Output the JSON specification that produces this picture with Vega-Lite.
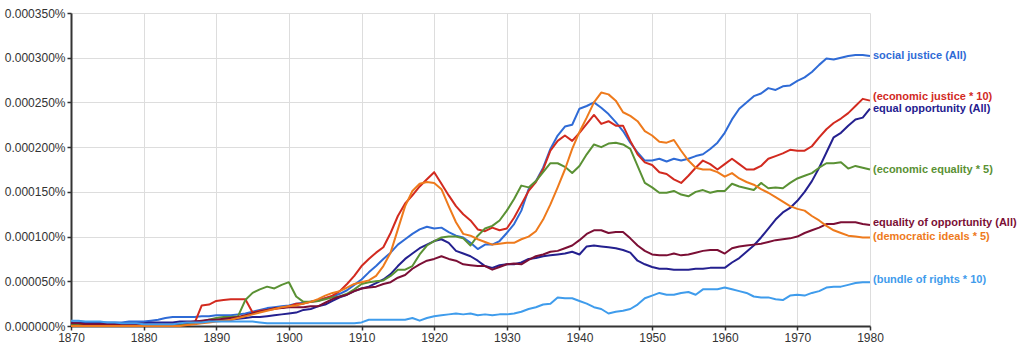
{
  "$schema": "https://vega.github.io/schema/vega-lite/v6.json",
  "width": 799,
  "height": 313,
  "autosize": "none",
  "padding": {"left": 71, "top": 13, "right": 154, "bottom": 25},
  "background": "white",
  "config": {
    "view": {"stroke": null},
    "font": "Liberation Sans",
    "axis": {"labelFont": "Liberation Sans", "labelFontSize": 12, "labelColor": "#333", "gridColor": "#dddddd", "gridWidth": 1, "domainColor": "#333", "domainWidth": 2, "tickColor": "#333", "tickSize": 4, "tickWidth": 1.5}
  },
  "data": {
    "values": [
      {"name": "social justice (All)", "year": [1870,1871,1872,1873,1874,1875,1876,1877,1878,1879,1880,1881,1882,1883,1884,1885,1886,1887,1888,1889,1890,1891,1892,1893,1894,1895,1896,1897,1898,1899,1900,1901,1902,1903,1904,1905,1906,1907,1908,1909,1910,1911,1912,1913,1914,1915,1916,1917,1918,1919,1920,1921,1922,1923,1924,1925,1926,1927,1928,1929,1930,1931,1932,1933,1934,1935,1936,1937,1938,1939,1940,1941,1942,1943,1944,1945,1946,1947,1948,1949,1950,1951,1952,1953,1954,1955,1956,1957,1958,1959,1960,1961,1962,1963,1964,1965,1966,1967,1968,1969,1970,1971,1972,1973,1974,1975,1976,1977,1978,1979,1980],
       "v": [4,4,4,4,4,4,4,4,5,5, 5,6,7,9,10,10,10,10,11,11, 12,12,12,13,14,16,18,20,21,22, 23,25,26,27,29,31,33,36,40,46, 52,60,67,75,82,91,97,103,108,111, 109,110,105,101,99,93,86,91,91,95, 104,114,129,153,162,177,198,213,223,225, 243,246,250,244,237,228,218,205,194,185, 185,187,184,187,185,187,190,192,198,205, 216,231,243,250,257,260,266,264,268,269, 274,278,284,292,299,298,300,302,303,303, 302]},
      {"name": "(economic justice * 10)", "year": [1870,1871,1872,1873,1874,1875,1876,1877,1878,1879,1880,1881,1882,1883,1884,1885,1886,1887,1888,1889,1890,1891,1892,1893,1894,1895,1896,1897,1898,1899,1900,1901,1902,1903,1904,1905,1906,1907,1908,1909,1910,1911,1912,1913,1914,1915,1916,1917,1918,1919,1920,1921,1922,1923,1924,1925,1926,1927,1928,1929,1930,1931,1932,1933,1934,1935,1936,1937,1938,1939,1940,1941,1942,1943,1944,1945,1946,1947,1948,1949,1950,1951,1952,1953,1954,1955,1956,1957,1958,1959,1960,1961,1962,1963,1964,1965,1966,1967,1968,1969,1970,1971,1972,1973,1974,1975,1976,1977,1978,1979,1980],
       "v": [1,1,1,1,1,1,1,1,1,1, 1,1,1,1,1,1,1,3,23,24, 28,29,30,30,30,15,17,18,19,20, 22,25,25,27,28,31,34,39,47,56, 67,75,82,88,104,123,137,146,156,164, 172,159,146,134,125,118,108,106,110,107, 109,121,136,151,161,175,196,207,213,207, 216,226,236,226,229,224,224,207,192,183, 180,172,170,164,160,168,177,185,181,175, 181,187,181,175,175,179,187,190,193,197, 196,196,201,211,220,227,232,238,246,254, 252]},
      {"name": "equal opportunity (All)", "year": [1870,1871,1872,1873,1874,1875,1876,1877,1878,1879,1880,1881,1882,1883,1884,1885,1886,1887,1888,1889,1890,1891,1892,1893,1894,1895,1896,1897,1898,1899,1900,1901,1902,1903,1904,1905,1906,1907,1908,1909,1910,1911,1912,1913,1914,1915,1916,1917,1918,1919,1920,1921,1922,1923,1924,1925,1926,1927,1928,1929,1930,1931,1932,1933,1934,1935,1936,1937,1938,1939,1940,1941,1942,1943,1944,1945,1946,1947,1948,1949,1950,1951,1952,1953,1954,1955,1956,1957,1958,1959,1960,1961,1962,1963,1964,1965,1966,1967,1968,1969,1970,1971,1972,1973,1974,1975,1976,1977,1978,1979,1980],
       "v": [3,3,3,3,3,3,3,3,3,3, 3,4,4,4,4,5,5,5,5,6, 6,7,7,8,9,10,10,11,12,13, 14,15,18,19,22,24,28,32,35,39, 42,44,48,52,58,67,75,81,87,91, 95,97,93,84,81,78,73,67,65,68, 69,69,71,75,76,78,79,80,81,83, 80,89,90,89,88,87,85,82,73,69, 66,64,64,63,63,63,64,64,65,65, 65,71,76,83,90,99,109,119,127,132, 140,150,162,177,194,211,216,224,231,233, 243]},
      {"name": "(economic equality * 5)", "year": [1870,1871,1872,1873,1874,1875,1876,1877,1878,1879,1880,1881,1882,1883,1884,1885,1886,1887,1888,1889,1890,1891,1892,1893,1894,1895,1896,1897,1898,1899,1900,1901,1902,1903,1904,1905,1906,1907,1908,1909,1910,1911,1912,1913,1914,1915,1916,1917,1918,1919,1920,1921,1922,1923,1924,1925,1926,1927,1928,1929,1930,1931,1932,1933,1934,1935,1936,1937,1938,1939,1940,1941,1942,1943,1944,1945,1946,1947,1948,1949,1950,1951,1952,1953,1954,1955,1956,1957,1958,1959,1960,1961,1962,1963,1964,1965,1966,1967,1968,1969,1970,1971,1972,1973,1974,1975,1976,1977,1978,1979,1980],
       "v": [1,1,1,1,1,1,1,1,1,1, 1,1,1,1,1,2,3,4,5,7, 9,10,10,11,29,37,41,44,42,46, 49,33,27,27,28,30,32,33,36,41, 47,49,50,51,56,63,63,67,80,90, 95,99,100,100,98,90,101,109,112,118, 129,142,157,155,162,172,182,182,178,171, 179,192,203,200,204,205,203,198,179,160, 155,149,149,151,147,145,150,152,149,151, 151,159,156,154,152,160,154,155,154,160, 165,168,171,177,182,182,183,176,179,177, 175]},
      {"name": "equality of opportunity (All)", "year": [1870,1871,1872,1873,1874,1875,1876,1877,1878,1879,1880,1881,1882,1883,1884,1885,1886,1887,1888,1889,1890,1891,1892,1893,1894,1895,1896,1897,1898,1899,1900,1901,1902,1903,1904,1905,1906,1907,1908,1909,1910,1911,1912,1913,1914,1915,1916,1917,1918,1919,1920,1921,1922,1923,1924,1925,1926,1927,1928,1929,1930,1931,1932,1933,1934,1935,1936,1937,1938,1939,1940,1941,1942,1943,1944,1945,1946,1947,1948,1949,1950,1951,1952,1953,1954,1955,1956,1957,1958,1959,1960,1961,1962,1963,1964,1965,1966,1967,1968,1969,1970,1971,1972,1973,1974,1975,1976,1977,1978,1979,1980],
       "v": [3,3,2,2,2,2,2,2,2,2, 2,2,2,2,2,3,4,5,6,7, 7,8,9,10,12,14,16,18,20,20, 21,21,21,22,22,26,30,33,35,39, 42,43,44,47,49,54,57,64,69,73, 75,78,75,73,69,68,67,67,63,66, 69,70,69,74,78,80,83,84,87,90, 96,103,107,107,104,105,105,98,90,84, 80,79,79,81,79,80,82,84,85,85, 81,87,89,90,91,92,94,96,97,98, 100,104,107,110,114,114,116,116,116,114, 113]},
      {"name": "(democratic ideals * 5)", "year": [1870,1871,1872,1873,1874,1875,1876,1877,1878,1879,1880,1881,1882,1883,1884,1885,1886,1887,1888,1889,1890,1891,1892,1893,1894,1895,1896,1897,1898,1899,1900,1901,1902,1903,1904,1905,1906,1907,1908,1909,1910,1911,1912,1913,1914,1915,1916,1917,1918,1919,1920,1921,1922,1923,1924,1925,1926,1927,1928,1929,1930,1931,1932,1933,1934,1935,1936,1937,1938,1939,1940,1941,1942,1943,1944,1945,1946,1947,1948,1949,1950,1951,1952,1953,1954,1955,1956,1957,1958,1959,1960,1961,1962,1963,1964,1965,1966,1967,1968,1969,1970,1971,1972,1973,1974,1975,1976,1977,1978,1979,1980],
       "v": [0,0,0,0,0,0,0,0,0,0, 0,0,0,0,0,0,1,2,3,4, 5,6,7,9,11,13,15,17,19,21, 22,23,25,27,30,34,37,39,43,47, 49,51,56,67,82,108,134,151,159,161, 160,153,134,116,103,101,97,94,91,92, 93,93,97,100,106,119,136,155,175,198, 217,233,250,261,259,252,239,235,229,218, 213,206,205,208,196,185,177,175,175,172, 167,171,165,161,158,153,149,144,139,134, 131,129,123,118,112,107,104,101,100,99, 99]},
      {"name": "(bundle of rights * 10)", "year": [1870,1871,1872,1873,1874,1875,1876,1877,1878,1879,1880,1881,1882,1883,1884,1885,1886,1887,1888,1889,1890,1891,1892,1893,1894,1895,1896,1897,1898,1899,1900,1901,1902,1903,1904,1905,1906,1907,1908,1909,1910,1911,1912,1913,1914,1915,1916,1917,1918,1919,1920,1921,1922,1923,1924,1925,1926,1927,1928,1929,1930,1931,1932,1933,1934,1935,1936,1937,1938,1939,1940,1941,1942,1943,1944,1945,1946,1947,1948,1949,1950,1951,1952,1953,1954,1955,1956,1957,1958,1959,1960,1961,1962,1963,1964,1965,1966,1967,1968,1969,1970,1971,1972,1973,1974,1975,1976,1977,1978,1979,1980],
       "v": [6,6,5,5,5,4,4,3,3,3, 2,2,2,2,2,3,4,4,4,5, 5,5,5,5,5,5,4,3,3,3, 3,3,3,3,3,3,3,3,3,3, 4,7,7,7,7,7,7,9,6,9, 11,12,13,14,13,14,12,13,12,13, 13,14,16,19,21,24,25,32,31,31, 28,25,21,19,14,16,17,19,24,31, 34,37,35,35,37,38,35,41,41,41, 43,41,39,37,33,32,32,30,29,34, 35,34,37,39,43,44,44,46,48,49, 49]}
    ]
  },
  "transform": [{"flatten": ["year", "v"]}],
  "encoding": {
    "x": {"field": "year", "type": "quantitative",
      "scale": {"domain": [1870, 1980], "nice": false, "zero": false},
      "axis": {"title": null, "values": [1870,1880,1890,1900,1910,1920,1930,1940,1950,1960,1970,1980], "format": "d", "labelFlush": false, "labelPadding": 2}},
    "y": {"field": "v", "type": "quantitative",
      "scale": {"domain": [0, 350], "nice": false},
      "axis": {"title": null, "values": [0,50,100,150,200,250,300,350], "labelExpr": "format(datum.value/1000000, '.6f') + '%'", "labelPadding": 2}},
    "color": {"field": "name", "type": "nominal", "legend": null,
      "scale": {
        "domain": ["social justice (All)", "(economic justice * 10)", "equal opportunity (All)", "(economic equality * 5)", "equality of opportunity (All)", "(democratic ideals * 5)", "(bundle of rights * 10)"],
        "range": ["#2f6bd6", "#d22a1f", "#24208f", "#5a9134", "#7b0f35", "#ee7a1c", "#3f9cec"]}}
  },
  "layer": [
    {"mark": {"type": "line", "strokeWidth": 2, "strokeJoin": "round"}, "encoding": {"detail": {"field": "name"}}},
    {"transform": [{"filter": "datum.year == 1980 && (datum.name == 'social justice (All)' || datum.name == 'equal opportunity (All)' || datum.name == '(economic equality * 5)' || datum.name == '(democratic ideals * 5)')"}],
     "mark": {"type": "text", "align": "left", "baseline": "middle", "dx": 3, "fontSize": 11, "fontWeight": "bold", "font": "Liberation Sans"},
     "encoding": {"text": {"field": "name"}}},
    {"transform": [{"filter": "datum.year == 1980 && datum.name == '(economic justice * 10)'"}],
     "mark": {"type": "text", "align": "left", "baseline": "middle", "dx": 3, "dy": -4, "fontSize": 11, "fontWeight": "bold", "font": "Liberation Sans"},
     "encoding": {"text": {"field": "name"}}},
    {"transform": [{"filter": "datum.year == 1980 && (datum.name == 'equality of opportunity (All)' || datum.name == '(bundle of rights * 10)')"}],
     "mark": {"type": "text", "align": "left", "baseline": "middle", "dx": 3, "dy": -2, "fontSize": 11, "fontWeight": "bold", "font": "Liberation Sans"},
     "encoding": {"text": {"field": "name"}}}
  ]
}
